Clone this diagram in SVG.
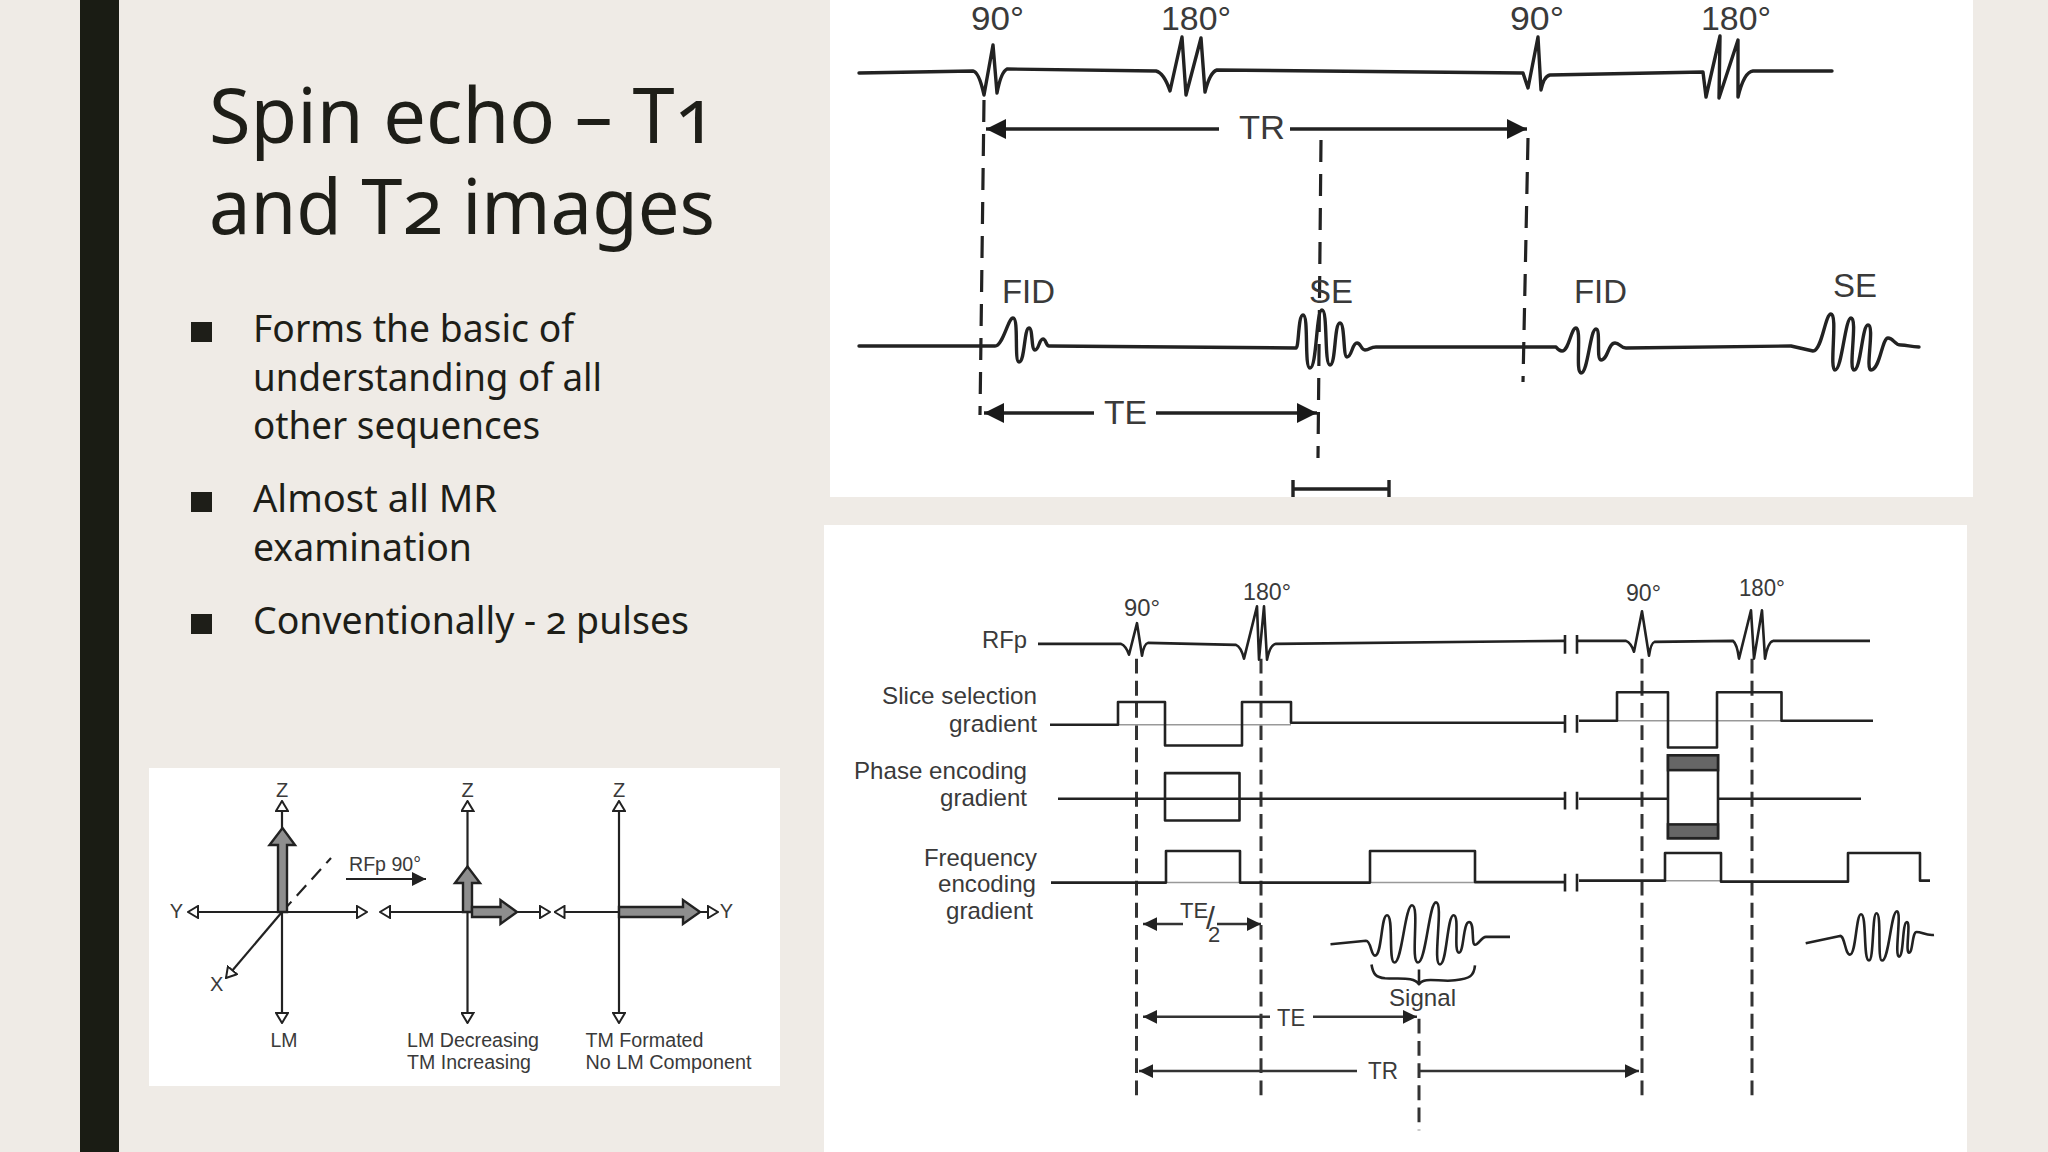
<svg xmlns="http://www.w3.org/2000/svg" width="2048" height="1152" viewBox="0 0 2048 1152">
<style>
.title{font-family:"Noto Sans","Open Sans",sans-serif;font-size:77px;fill:#1e1e18;font-feature-settings:"onum";}
.body{font-family:"Noto Sans","Open Sans",sans-serif;font-size:39px;fill:#1e1e18;font-feature-settings:"onum";}
.a{font-family:"Liberation Sans",Arial,sans-serif;fill:#3a3a3a;}
.t{font-size:34px;}
.m{font-size:24px;}
.s{font-size:20px;}
.w{fill:none;stroke:#222;stroke-width:3.4;stroke-linejoin:round;stroke-linecap:round;}
.n{fill:none;stroke:#222;stroke-width:2.6;stroke-linejoin:round;}
.thin{fill:none;stroke:#999;stroke-width:1.5;}
.dt{fill:none;stroke:#222;stroke-width:3.2;stroke-dasharray:22 12;}
.db{fill:none;stroke:#333;stroke-width:3;stroke-dasharray:15 7.5;}
.ar{fill:none;stroke:#222;stroke-width:3.4;}
.ab{fill:none;stroke:#333;stroke-width:2.6;}
.ax{fill:none;stroke:#222;stroke-width:2.2;}
.thick{fill:#8e8e8e;stroke:#222;stroke-width:2.4;stroke-linejoin:miter;}
</style>
<defs>
<marker id="fb" viewBox="0 0 10 10" refX="10" refY="5" markerUnits="userSpaceOnUse" markerWidth="20" markerHeight="22" orient="auto-start-reverse"><path d="M0 0L10 5L0 10Z" fill="#1a1a1a"/></marker>
<marker id="fs" viewBox="0 0 10 10" refX="10" refY="5" markerUnits="userSpaceOnUse" markerWidth="14" markerHeight="15" orient="auto-start-reverse"><path d="M0 0L10 5L0 10Z" fill="#222"/></marker>
<marker id="op" viewBox="0 0 12 14" refX="11" refY="7" markerUnits="userSpaceOnUse" markerWidth="12" markerHeight="14" orient="auto-start-reverse"><path d="M1 1L11 7L1 13Z" fill="#fff" stroke="#222" stroke-width="2"/></marker>
</defs>
<rect width="2048" height="1152" fill="#efebe6"/>
<rect id="sidebar" x="80" y="0" width="39" height="1152" fill="#1a1c14"/>

<g id="title">
<text class="title" x="209" y="143" textLength="507" lengthAdjust="spacingAndGlyphs">Spin echo – T1</text>
<text class="title" x="209" y="234" textLength="506" lengthAdjust="spacingAndGlyphs">and T2 images</text>
</g>
<g id="bullets">
<rect x="191" y="322" width="21" height="20" fill="#1e1e18"/>
<rect x="191" y="492" width="21" height="20" fill="#1e1e18"/>
<rect x="191" y="614" width="21" height="20" fill="#1e1e18"/>
<text class="body" x="253" y="342" textLength="321" lengthAdjust="spacingAndGlyphs">Forms the basic of</text>
<text class="body" x="253" y="391" textLength="349" lengthAdjust="spacingAndGlyphs">understanding of all</text>
<text class="body" x="253" y="439" textLength="287" lengthAdjust="spacingAndGlyphs">other sequences</text>
<text class="body" x="253" y="512" textLength="244" lengthAdjust="spacingAndGlyphs">Almost all MR</text>
<text class="body" x="253" y="561" textLength="219" lengthAdjust="spacingAndGlyphs">examination</text>
<text class="body" x="253" y="634" textLength="436" lengthAdjust="spacingAndGlyphs">Conventionally - 2 pulses</text>
</g>

<g id="panel-top">
<rect x="830" y="0" width="1143" height="497" fill="#fff"/>
<g id="top-connectors">
<path class="dt" d="M984 100L980 415"/>
<path class="dt" d="M1321 140L1318 458"/>
<path class="dt" d="M1528 138L1523 382"/>
<path class="ar" d="M986 129H1219" marker-start="url(#fb)"/>
<path class="ar" d="M1290 129H1527" marker-end="url(#fb)"/>
<path class="ar" d="M984 413H1094" marker-start="url(#fb)"/>
<path class="ar" d="M1156 413H1317" marker-end="url(#fb)"/>
<path class="ar" d="M1293 480V497M1293 489H1389M1389 480V497"/>
</g>
<g id="top-rf">
<path class="w" d="M859 73L973 71Q979 72 984 95L993 45L997 93Q1001 72 1007 69L1156 71Q1164 73 1170 91L1182 37L1186 95L1201 38L1205 92Q1210 72 1217 70L1523 73L1528 88L1538 37L1541 90Q1544 76 1550 75L1703 72L1706 97L1720 36L1719 98L1738 40L1738 97Q1744 72 1753 71H1832"/>
</g>
<g id="top-echo">
<path class="w" d="M859 346L995 346C1003 346 1008 318 1013 318C1019 318 1014 362 1019 362C1025 362 1024 328 1029 328C1033 328 1031 350 1035 350C1039 350 1039 339 1043 339C1046 339 1046 346 1049 346L1296 348C1299 348 1298 315 1303 315C1309 315 1304 368 1310 368C1317 368 1316 310 1322 310C1328 310 1324 365 1330 365C1336 365 1334 323 1340 323C1345 323 1343 357 1347 357C1352 357 1352 343 1357 343C1361 343 1361 350 1365 350C1370 350 1370 347 1376 347L1556 347Q1559 351 1562 351C1569 351 1571 328 1576 328C1582 328 1575 373 1581 373C1588 373 1590 329 1596 329C1601 329 1596 360 1601 360C1608 360 1608 343 1615 343C1620 343 1620 348 1626 348L1791 346L1813 351C1822 351 1825 314 1831 314C1838 314 1829 370 1835 370C1842 370 1845 318 1851 318C1858 318 1848 370 1854 370C1861 370 1862 325 1868 325C1875 325 1865 370 1871 370C1880 370 1882 338 1888 338C1894 338 1894 345 1901 345C1908 345 1910 347 1919 347"/>
</g>
<g id="top-labels" class="a">
<text class="t" x="971" y="30" textLength="53" lengthAdjust="spacingAndGlyphs">90°</text>
<text class="t" x="1161" y="30" textLength="70" lengthAdjust="spacingAndGlyphs">180°</text>
<text class="t" x="1510" y="30" textLength="54" lengthAdjust="spacingAndGlyphs">90°</text>
<text class="t" x="1701" y="30" textLength="70" lengthAdjust="spacingAndGlyphs">180°</text>
<text class="t" x="1239" y="139" textLength="46" lengthAdjust="spacingAndGlyphs">TR</text>
<text class="t" x="1002" y="303" textLength="53" lengthAdjust="spacingAndGlyphs">FID</text>
<text class="t" x="1309" y="303" textLength="44" lengthAdjust="spacingAndGlyphs">SE</text>
<text class="t" x="1574" y="303" textLength="53" lengthAdjust="spacingAndGlyphs">FID</text>
<text class="t" x="1833" y="297" textLength="44" lengthAdjust="spacingAndGlyphs">SE</text>
<text class="t" x="1104" y="424" textLength="43" lengthAdjust="spacingAndGlyphs">TE</text>
</g>
</g>

<g id="panel-bottom">
<rect x="824" y="525" width="1143" height="627" fill="#fff"/>
<g transform="translate(0 7.5) scale(1 0.9866)">
<g id="bottom-connectors">
<path class="db" d="M1136.500 660V1105"/>
<path class="db" d="M1261 660V1105"/>
<path class="db" d="M1642 660V1105"/>
<path class="db" d="M1752 660V1105"/>
<path class="db" d="M1419 1025V1138"/>
<path class="ab" d="M1143 929H1183" marker-start="url(#fs)"/>
<path class="ab" d="M1217 929H1261" marker-end="url(#fs)"/>
<path class="ab" d="M1143 1023H1270" marker-start="url(#fs)"/>
<path class="ab" d="M1313 1023H1417" marker-end="url(#fs)"/>
<path class="ab" d="M1139 1078H1357" marker-start="url(#fs)"/>
<path class="ab" d="M1419 1078H1639" marker-end="url(#fs)"/>
</g>
<g id="rf-row">
<path class="n" d="M1038 645H1121Q1126 647 1129 656L1137 624L1142 657Q1144 645 1148 644L1236 646Q1241 648 1244 660L1257 607L1259 661L1264 607L1267 661Q1270 646 1276 645L1565 642M1577 642H1626Q1631 644 1634 653L1642 612L1649 657Q1651 644 1654.500 643L1733 642Q1737 645 1739 660L1751 611L1754 660L1762 611L1765 660Q1768 643 1773 642H1870"/>
<path class="n" d="M1565 636V655M1577 636V655"/>
</g>
<g id="slice-row">
<path class="thin" d="M1118 727H1291M1617 723H1781"/>
<path class="n" d="M1050 727H1118V704H1165V748H1242V704H1291V725L1565 725M1579 723H1617V694H1668V750H1717V694H1781.500V723H1873"/>
<path class="n" d="M1565 717V735M1577 717V735"/>
</g>
<g id="phase-row">
<path class="n" d="M1058 802H1565M1579 802H1667M1718 802H1861"/>
<rect class="n" x="1165" y="776" width="74.500" height="48"/>
<rect x="1668" y="758" width="50" height="84" fill="#fff" stroke="#222" stroke-width="2.600"/>
<rect x="1668" y="758" width="50" height="15" fill="#666" stroke="#222" stroke-width="2.600"/>
<rect x="1668" y="828" width="50" height="14" fill="#666" stroke="#222" stroke-width="2.600"/>
<path class="n" d="M1565 795V813M1577 795V813"/>
</g>
<g id="frequency-row">
<path class="thin" d="M1166 887H1240M1370 887H1475M1665 885H1721"/>
<path class="n" d="M1051 887H1166V855H1240V887H1370V855H1475V886.500H1565M1579 885H1665V857H1721V886H1848V857H1920V885H1930"/>
<path class="n" d="M1565 878V896M1577 878V896"/>
</g>
<g id="signal">
<path class="n" d="M1330.500 949.500L1366 946C1371 946 1371 961 1375 961C1382 961 1381 920 1387 920C1394 920 1388 968 1394.500 968C1402 968 1405 910 1412 910C1420 910 1410 968 1418 968C1426 968 1429 907 1436 907C1444 907 1432 970 1440 970C1447 970 1447 920 1453.600 920C1460 920 1453 958 1459 958C1464 958 1463 927 1469 927C1475 927 1471 950 1475 950C1479 950 1481 942 1486 942H1510"/>
<path class="n" d="M1371.500 970C1373 980 1376 983 1385 984C1400 985 1414 982 1419 990C1424 982 1440 988 1455 986C1470 984 1474 982 1475 971M1419 975V990"/>
<path class="n" d="M1805.700 948.400L1840 941C1845 941 1845 960 1850 960C1856 960 1856 919 1861 919C1867 919 1863 966 1869 966C1874 966 1872 918 1876.500 918C1882 918 1877 966 1882 966C1889 966 1891 916 1897 916C1902 916 1894 962 1899 962C1904 962 1902 927 1907 927C1911 927 1905 958 1909 958C1913 958 1912 937 1916.600 937C1922 937 1926 941 1934 940"/>
</g>
<g id="bottom-labels" class="a">
<text class="m" x="982" y="649" textLength="45" lengthAdjust="spacingAndGlyphs">RFp</text>
<text class="m" x="882" y="706" textLength="155" lengthAdjust="spacingAndGlyphs">Slice selection</text>
<text class="m" x="949" y="734" textLength="88" lengthAdjust="spacingAndGlyphs">gradient</text>
<text class="m" x="854" y="782" textLength="173" lengthAdjust="spacingAndGlyphs">Phase encoding</text>
<text class="m" x="940" y="809.500" textLength="87" lengthAdjust="spacingAndGlyphs">gradient</text>
<text class="m" x="924" y="870" textLength="113" lengthAdjust="spacingAndGlyphs">Frequency</text>
<text class="m" x="938" y="897" textLength="98" lengthAdjust="spacingAndGlyphs">encoding</text>
<text class="m" x="946" y="923.500" textLength="87" lengthAdjust="spacingAndGlyphs">gradient</text>
<text class="m" x="1124" y="616.500" textLength="36" lengthAdjust="spacingAndGlyphs">90°</text>
<text class="m" x="1243" y="601" textLength="48" lengthAdjust="spacingAndGlyphs">180°</text>
<text class="m" x="1626" y="602" textLength="35" lengthAdjust="spacingAndGlyphs">90°</text>
<text class="m" x="1739" y="597" textLength="46" lengthAdjust="spacingAndGlyphs">180°</text>
<text font-size="22" x="1180" y="923">TE<tspan font-size="32" dx="-2" dy="11">/</tspan><tspan font-size="22" dy="13" dx="-7">2</tspan></text>
<text class="m" x="1389" y="1012" textLength="67" lengthAdjust="spacingAndGlyphs">Signal</text>
<text class="m" x="1277" y="1032" textLength="28" lengthAdjust="spacingAndGlyphs">TE</text>
<text class="m" x="1368" y="1086" textLength="30" lengthAdjust="spacingAndGlyphs">TR</text>
</g>
</g>
</g>

<g id="panel-vectors">
<rect x="149" y="768" width="631" height="318" fill="#fff"/>
<g id="vector-lm">
<path class="ax" d="M282 912V801" marker-end="url(#op)"/>
<path class="ax" d="M282 912V1023" marker-end="url(#op)"/>
<path class="ax" d="M282 912H188" marker-end="url(#op)"/>
<path class="ax" d="M282 912H367" marker-end="url(#op)"/>
<path class="ax" d="M282 912L226 978" marker-end="url(#op)"/>
<path class="ax" d="M282 912L331 858" stroke-dasharray="14 8"/>
<path class="thick" d="M278 912V845H269.500L282.500 828L295 845H287V912Z"/>
<path class="ax" d="M346 879H426" marker-end="url(#fs)"/>
</g>
<g id="vector-mixed">
<path class="ax" d="M467.500 912V801" marker-end="url(#op)"/>
<path class="ax" d="M467.500 912V1023" marker-end="url(#op)"/>
<path class="ax" d="M467.500 912H380" marker-end="url(#op)"/>
<path class="ax" d="M467.500 912H550" marker-end="url(#op)"/>
<path class="thick" d="M463 912V883H455L467.500 866.500L480 883H472V912Z"/>
<path class="thick" d="M472 907H500.500V900L517 912L500.500 924V917H472Z"/>
</g>
<g id="vector-tm">
<path class="ax" d="M619 912V801" marker-end="url(#op)"/>
<path class="ax" d="M619 912V1023" marker-end="url(#op)"/>
<path class="ax" d="M619 912H554.500" marker-end="url(#op)"/>
<path class="ax" d="M619 912H718" marker-end="url(#op)"/>
<path class="thick" d="M619 907H683V900L700 912L683 924V917H619Z"/>
</g>
<g id="vector-labels" class="a">
<text class="s" x="282" y="797" text-anchor="middle">Z</text>
<text class="s" x="467.500" y="797" text-anchor="middle">Z</text>
<text class="s" x="619" y="797" text-anchor="middle">Z</text>
<text class="s" x="176.500" y="918" text-anchor="middle">Y</text>
<text class="s" x="726.500" y="918" text-anchor="middle">Y</text>
<text class="s" x="216.700" y="991" text-anchor="middle">X</text>
<text class="s" x="349" y="870.500" textLength="72" lengthAdjust="spacingAndGlyphs">RFp 90°</text>
<text class="s" x="270.500" y="1047" textLength="27" lengthAdjust="spacingAndGlyphs">LM</text>
<text class="s" x="407" y="1047" textLength="132" lengthAdjust="spacingAndGlyphs">LM Decreasing</text>
<text class="s" x="407" y="1069" textLength="124" lengthAdjust="spacingAndGlyphs">TM Increasing</text>
<text class="s" x="585.500" y="1047" textLength="118" lengthAdjust="spacingAndGlyphs">TM Formated</text>
<text class="s" x="585.500" y="1069" textLength="166" lengthAdjust="spacingAndGlyphs">No LM Component</text>
</g>
</g>
</svg>
